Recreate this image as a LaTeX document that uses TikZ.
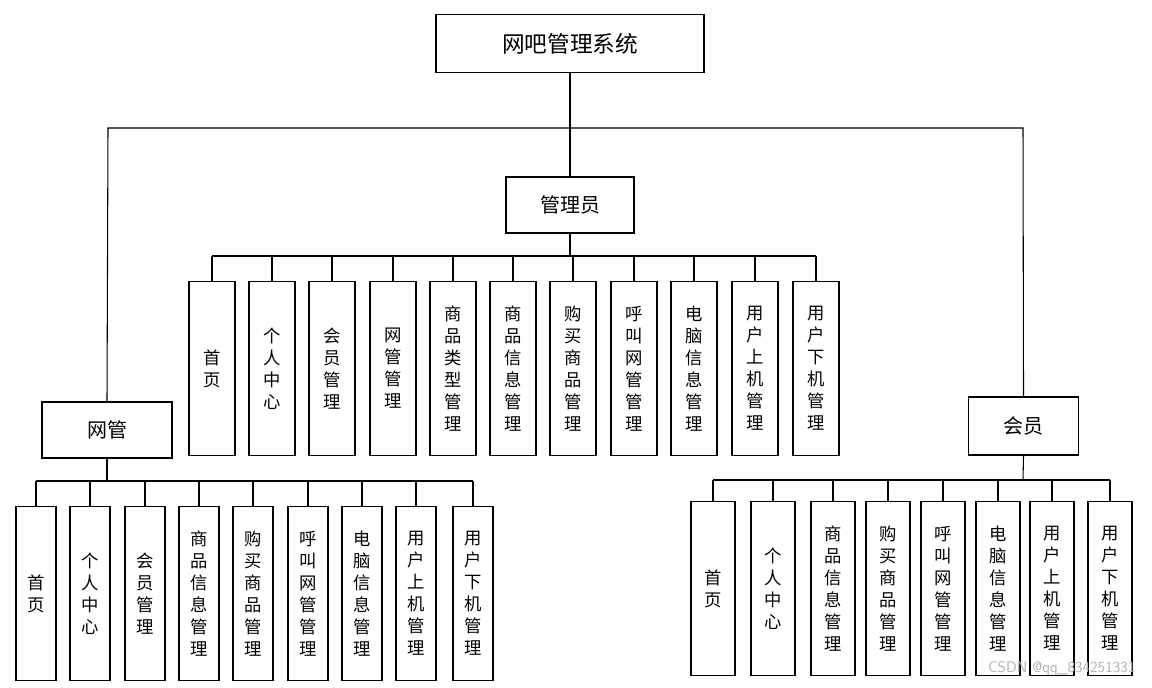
\documentclass[tikz,border=0pt]{standalone}
\usepackage{fontspec}
\newfontfamily\cjk{Noto Sans CJK SC}
\begin{document}
\begin{tikzpicture}[x=0.75pt,y=-0.75pt,
  box/.style={draw,line width=0.8pt,fill=white,font=\cjk\fontsize{15}{16}\selectfont,inner sep=0pt},
  leaf/.style={box,align=center,font=\cjk\fontsize{13}{16.5}\selectfont},
  ln/.style={line width=0.8pt}]
\useasboundingbox (0,0) rectangle (1152,687);
\node[box,minimum width=201pt,minimum height=43pt,font=\cjk\fontsize{17}{18}\selectfont] (root) at (570,43.5) {网吧管理系统};
\node[box,minimum width=96pt,minimum height=42pt] (adm) at (570,205) {管理员};
\node[box,minimum width=97.5pt,minimum height=42pt] (wg) at (107,430) {网管};
\node[box,minimum width=82pt,minimum height=43.5pt] (hy) at (1023.5,426) {会员};
\coordinate (bl) at (108,128); \coordinate (br) at (1023,128);
\draw[ln] (root.south) -- (adm.north);
\draw[ln] (wg.north) -- (bl) -- (br) -- (hy.north);
% admin
\foreach \x/\t [count=\i] in {212/首\\页,272/个\\人\\中\\心,332/会\\员\\管\\理,393/网\\管\\管\\理,453/商\\品\\类\\型\\管\\理,513/商\\品\\信\\息\\管\\理,573/购\\买\\商\\品\\管\\理,634/呼\\叫\\网\\管\\管\\理,694/电\\脑\\信\\息\\管\\理,755/用\\户\\上\\机\\管\\理,816/用\\户\\下\\机\\管\\理}{
  \node[leaf,minimum width=34.5pt,minimum height=130pt] (a\i) at (\x,368.5) {\t};
  \draw[ln] (a\i.north) -- (\x,256);
}
\draw[ln] (a1.north|-0,256) -- (a11.north|-0,256);
\draw[ln] (adm.south) -- (570,256);
% wangguan
\foreach \x/\t [count=\i] in {36/首\\页,90/个\\人\\中\\心,145/会\\员\\管\\理,199/商\\品\\信\\息\\管\\理,253/购\\买\\商\\品\\管\\理,308/呼\\叫\\网\\管\\管\\理,362/电\\脑\\信\\息\\管\\理,416/用\\户\\上\\机\\管\\理,473/用\\户\\下\\机\\管\\理}{
  \node[leaf,minimum width=30pt,minimum height=130pt] (w\i) at (\x,593.5) {\t};
  \draw[ln] (w\i.north) -- (\x,481);
}
\draw[ln] (w1.north|-0,481) -- (w9.north|-0,481);
\draw[ln] (wg.south) -- (107,481);
% huiyuan
\foreach \x/\t [count=\i] in {713/首\\页,773/个\\人\\中\\心,833/商\\品\\信\\息\\管\\理,888/购\\买\\商\\品\\管\\理,943/呼\\叫\\网\\管\\管\\理,998/电\\脑\\信\\息\\管\\理,1052/用\\户\\上\\机\\管\\理,1110/用\\户\\下\\机\\管\\理}{
  \node[leaf,minimum width=33pt,minimum height=130pt] (h\i) at (\x,588.5) {\t};
  \draw[ln] (h\i.north) -- (\x,480);
}
\draw[ln] (h1.north|-0,480) -- (h8.north|-0,480);
\draw[ln] (hy.south) -- (1023,480);
\node[text=gray!60,font=\sffamily\fontsize{11.5}{12}\selectfont,anchor=east] (wm) at (1140,668) {CSDN @qq\_834251331};
\end{tikzpicture}
\end{document}
